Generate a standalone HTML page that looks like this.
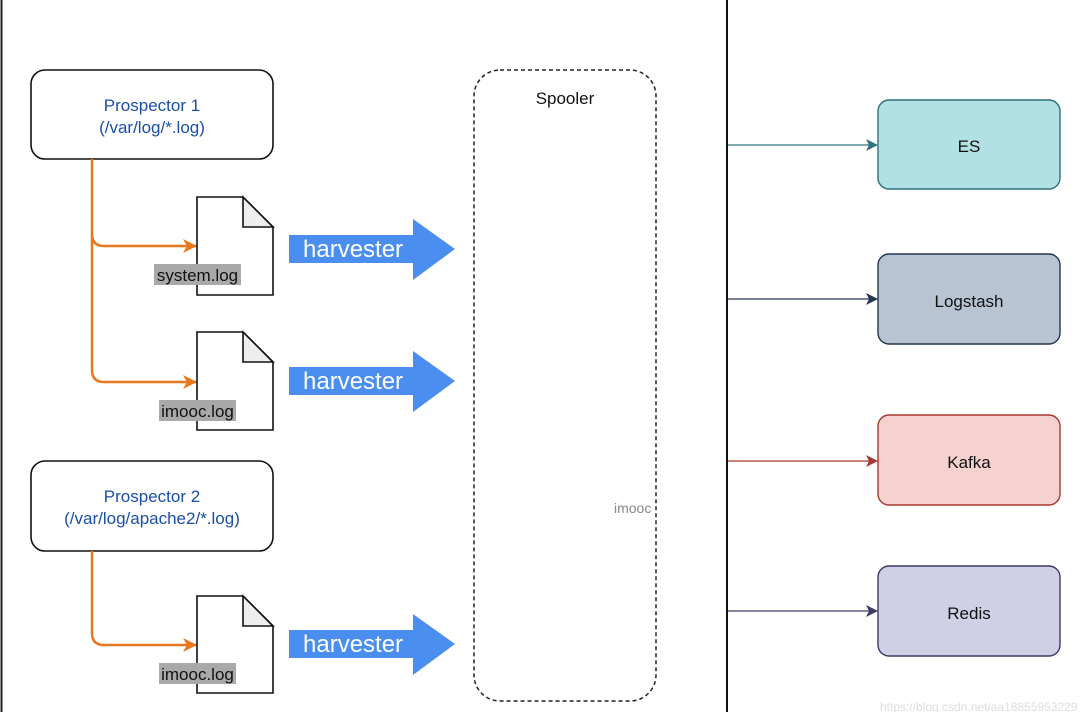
<!DOCTYPE html>
<html><head><meta charset="utf-8"><style>
html,body{margin:0;padding:0;background:#fff;}
svg{display:block;font-family:"Liberation Sans",Arial,sans-serif;}
</style></head><body>
<svg width="1086" height="712" viewBox="0 0 1086 712" xmlns="http://www.w3.org/2000/svg">
<defs>
<marker id="mo" markerWidth="14" markerHeight="14" refX="13" refY="7" orient="auto" markerUnits="userSpaceOnUse"><path d="M0,0 L14,7 L0,14 L4,7 Z" fill="#e8771e"/></marker>
<marker id="m1" markerWidth="12" markerHeight="12" refX="11" refY="6" orient="auto" markerUnits="userSpaceOnUse"><path d="M0,0 L12,6 L0,12 L3,6 Z" fill="#2d7380"/></marker>
<marker id="m2" markerWidth="12" markerHeight="12" refX="11" refY="6" orient="auto" markerUnits="userSpaceOnUse"><path d="M0,0 L12,6 L0,12 L3,6 Z" fill="#243650"/></marker>
<marker id="m3" markerWidth="12" markerHeight="12" refX="11" refY="6" orient="auto" markerUnits="userSpaceOnUse"><path d="M0,0 L12,6 L0,12 L3,6 Z" fill="#a8372f"/></marker>
<marker id="m4" markerWidth="12" markerHeight="12" refX="11" refY="6" orient="auto" markerUnits="userSpaceOnUse"><path d="M0,0 L12,6 L0,12 L3,6 Z" fill="#3c3a66"/></marker>
</defs>
<line x1="1.5" y1="0" x2="1.5" y2="712" stroke="#222" stroke-width="2"/>
<line x1="727" y1="0" x2="727" y2="712" stroke="#111" stroke-width="2"/>

<rect x="31" y="70" width="242" height="89" rx="14" fill="#fff" stroke="#111" stroke-width="1.6"/>
<text x="152" y="111" text-anchor="middle" font-size="17" fill="#1a4fa8">Prospector 1</text>
<text x="152" y="133" text-anchor="middle" font-size="17" fill="#1a4fa8">(/var/log/*.log)</text>
<rect x="31" y="461" width="242" height="90" rx="14" fill="#fff" stroke="#111" stroke-width="1.6"/>
<text x="152" y="502" text-anchor="middle" font-size="17" fill="#1a4fa8">Prospector 2</text>
<text x="152" y="524" text-anchor="middle" font-size="17" fill="#1a4fa8">(/var/log/apache2/*.log)</text>

<g fill="none" stroke="#e8771e" stroke-width="2.5">
<path d="M92,159 L92,234 Q92,246 104,246 L196,246" marker-end="url(#mo)"/>
<path d="M92,234 L92,370 Q92,382 104,382 L196,382" marker-end="url(#mo)"/>
<path d="M92,551 L92,633 Q92,645 104,645 L196,645" marker-end="url(#mo)"/>
</g>

<g stroke="#111" stroke-width="1.6">
<path d="M197,197 L243,197 L273,227 L273,295 L197,295 Z" fill="#fff"/>
<path d="M243,197 L243,227 L273,227 Z" fill="#eee"/>
<path d="M197,332 L243,332 L273,362 L273,430 L197,430 Z" fill="#fff"/>
<path d="M243,332 L243,362 L273,362 Z" fill="#eee"/>
<path d="M197,596 L243,596 L273,626 L273,693 L197,693 Z" fill="#fff"/>
<path d="M243,596 L243,626 L273,626 Z" fill="#eee"/>
</g>
<rect x="154" y="264" width="87" height="21" fill="#a9a9a9"/>
<text x="197.5" y="281" text-anchor="middle" font-size="17" fill="#111">system.log</text>
<rect x="159" y="400" width="77" height="21" fill="#a9a9a9"/>
<text x="197.5" y="417" text-anchor="middle" font-size="17" fill="#111">imooc.log</text>
<rect x="159" y="663" width="77" height="21" fill="#a9a9a9"/>
<text x="197.5" y="680" text-anchor="middle" font-size="17" fill="#111">imooc.log</text>

<g fill="#4a8ff0">
<path d="M289,235 L413,235 L413,219 L455,249 L413,280 L413,263 L289,263 Z"/>
<path d="M289,367 L413,367 L413,351 L455,381 L413,412 L413,395 L289,395 Z"/>
<path d="M289,630 L413,630 L413,614 L455,644 L413,675 L413,658 L289,658 Z"/>
</g>
<g fill="#fff" font-size="24">
<text x="303" y="257">harvester</text>
<text x="303" y="389">harvester</text>
<text x="303" y="652">harvester</text>
</g>

<rect x="474" y="70" width="182" height="631" rx="26" fill="none" stroke="#222" stroke-width="1.5" stroke-dasharray="4,3"/>
<text x="565" y="104" text-anchor="middle" font-size="17" fill="#111">Spooler</text>
<text x="614" y="513" font-size="14" fill="#888">imooc</text>

<line x1="728" y1="145" x2="877" y2="145" stroke="#2d7380" stroke-width="1.3" marker-end="url(#m1)"/>
<line x1="728" y1="299" x2="877" y2="299" stroke="#243650" stroke-width="1.3" marker-end="url(#m2)"/>
<line x1="728" y1="461" x2="877" y2="461" stroke="#a8372f" stroke-width="1.3" marker-end="url(#m3)"/>
<line x1="728" y1="611" x2="877" y2="611" stroke="#3c3a66" stroke-width="1.3" marker-end="url(#m4)"/>

<rect x="878" y="100" width="182" height="89" rx="11" fill="#b1e1e4" stroke="#2d6f7a" stroke-width="1.4"/>
<text x="969" y="152" text-anchor="middle" font-size="17" fill="#111">ES</text>
<rect x="878" y="254" width="182" height="90" rx="11" fill="#b9c4d3" stroke="#23364f" stroke-width="1.4"/>
<text x="969" y="307" text-anchor="middle" font-size="17" fill="#111">Logstash</text>
<rect x="878" y="415" width="182" height="90" rx="11" fill="#f5d2cf" stroke="#a8372f" stroke-width="1.4"/>
<text x="969" y="468" text-anchor="middle" font-size="17" fill="#111">Kafka</text>
<rect x="878" y="566" width="182" height="90" rx="11" fill="#cfd0e5" stroke="#3c3a66" stroke-width="1.4"/>
<text x="969" y="619" text-anchor="middle" font-size="17" fill="#111">Redis</text>
<text x="880" y="711" font-size="12" fill="#ddd">https://blog.csdn.net/aa18855953229</text>
</svg>
</body></html>
